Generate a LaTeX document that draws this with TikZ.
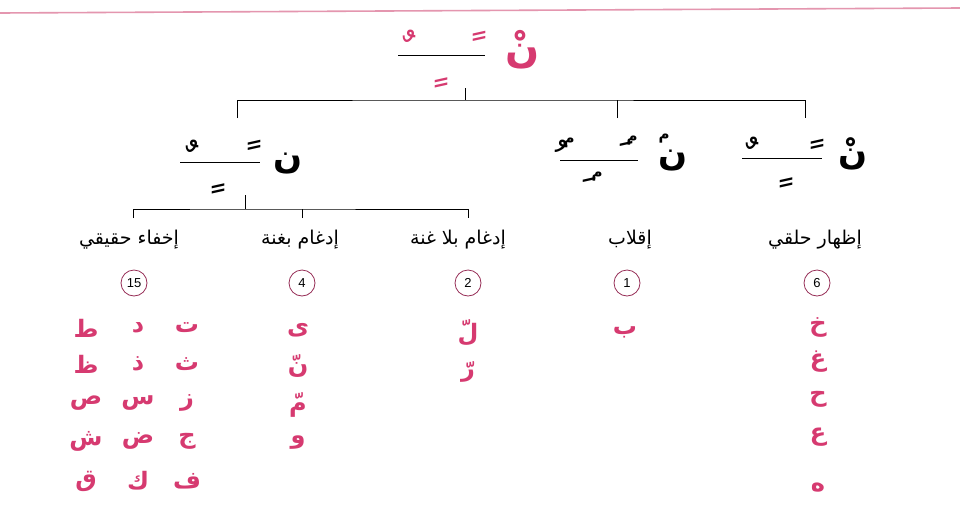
\documentclass[tikz,border=0pt]{standalone}
\usepackage{fontspec}
\setmainfont{Liberation Sans}
\newfontfamily\arabicfont[Script=Arabic]{DejaVu Sans}
\TeXXeTstate=1

\definecolor{tajpink}{RGB}{214,58,112}
\definecolor{ringred}{RGB}{150,45,85}
\definecolor{rulepink}{RGB}{228,150,175}

%% a lone vowel sign sits on a no-break space
\newcommand{\haraka}[1]{\beginR ^^^^00a0#1\endR}

\tikzset{
    lbl/.style={inner sep=1pt, font=\fontsize{19}{22}\selectfont\arabicfont},
    ring/.style={circle, draw=ringred, thick, minimum size=26pt, inner sep=0pt,
        font=\fontsize{13}{15}\selectfont},
    harf/.style={inner sep=0pt, text=tajpink, font=\fontsize{24}{26}\selectfont\arabicfont\bfseries},
    noon/.style={inner sep=0pt, font=\fontsize{34}{36}\selectfont\arabicfont\bfseries},
    harakah/.style={inner sep=0pt, font=\fontsize{44}{46}\selectfont\arabicfont},
    meem/.style={inner sep=0pt, font=\fontsize{15}{16}\selectfont\arabicfont\bfseries},
    tree/.style={line width=0.9pt}
}

\begin{document}
\begin{tikzpicture}[x=1pt,y=-1pt]
                \useasboundingbox (0,0) rectangle (960,504);
                \fill[white] (0,0) rectangle (960,504);

                %%page rule
                \draw[rulepink, line width=1.6pt]
                    (0,13) -- (960,8);

                %%top: nun sakinah and tanween
                \node[noon, text=tajpink, font=\fontsize{40}{42}\selectfont\arabicfont\bfseries]
                    (topnoon) at (523,50) {\beginR نْ\endR};
                \draw[tree]
                    (398,55) -- (485,55);
                \node[harakah, text=tajpink] (topdamm) at (405,49) {\haraka{ٌ}};
                \node[harakah, text=tajpink] (topfath) at (475,49) {\haraka{ً}};
                \node[harakah, text=tajpink] (topkasr) at (437,83) {\haraka{ٍ}};

                %%top tree
                \coordinate (root) at (465,88);
                \coordinate (rootbus) at (465,100);
                \coordinate (ikhfag) at (237,118);
                \coordinate (iqlabg) at (617,118);
                \coordinate (izharg) at (805,118);
                \draw[tree] (root) -- (rootbus);
                \draw[tree] (ikhfag) |- (rootbus) -| (izharg);
                \draw[tree] (iqlabg) -- (iqlabg |- rootbus);

                %%left group (ikhfa / idgham)
                \node[noon] (leftnoon) at (288,164) {\beginR ن\endR};
                \draw[tree]
                    (180,162) -- (260,162);
                \node[harakah] (leftdamm) at (188,159) {\haraka{ٌ}};
                \node[harakah] (leftfath) at (250,158) {\haraka{ً}};
                \node[harakah] (leftkasr) at (214,189) {\haraka{ٍ}};

                %%middle group (iqlab)
                \node[noon] (midnoon) at (673,161) {\beginR ن\endR};
                \node[meem] (midnoonm) at (664,139) {\beginR م\endR};
                \draw[tree]
                    (560,160) -- (638,160);
                \node[harakah] (middamm) at (557,159) {\haraka{ُ}};
                \node[meem] (middammm) at (569,143) {\beginR م\endR};
                \node[harakah] (midfath) at (622,157) {\haraka{َ}};
                \node[meem] (midfathm) at (632,141) {\beginR م\endR};
                \node[harakah] (midkasr) at (585,180) {\haraka{ِ}};
                \node[meem] (midkasrm) at (597,177) {\beginR م\endR};

                %%right group (izhar)
                \node[noon] (rightnoon) at (853,154) {\beginR نْ\endR};
                \draw[tree]
                    (742,158) -- (822,158);
                \node[harakah] (rightdamm) at (748,156) {\haraka{ٌ}};
                \node[harakah] (rightfath) at (813,157) {\haraka{ً}};
                \node[harakah] (rightkasr) at (782,183) {\haraka{ٍ}};

                %%second tree
                \coordinate (sub) at (245,195);
                \coordinate (subbus) at (245,209);
                \coordinate (ikhfat) at (133,218);
                \coordinate (ghunnat) at (302,218);
                \coordinate (blat) at (468,218);
                \draw[tree] (sub) -- (subbus);
                \draw[tree] (ikhfat) |- (subbus) -| (blat);
                \draw[tree] (ghunnat) -- (ghunnat |- subbus);

                %%rule names
                \node[lbl] (ikhfa) at (129,240) {\beginR إخفاء حقيقي\endR};
                \node[lbl] (ghunna) at (300,240) {\beginR إدغام بغنة\endR};
                \node[lbl] (blaghunna) at (458,240) {\beginR إدغام بلا غنة\endR};
                \node[lbl] (iqlab) at (630,240) {\beginR إقلاب\endR};
                \node[lbl] (izhar) at (815,240) {\beginR إظهار حلقي\endR};

                %%counts
                \node[ring] (n15) at (134,283) {15};
                \node[ring] (n4) at (302,283) {4};
                \node[ring] (n2) at (468,283) {2};
                \node[ring] (n1) at (627,283) {1};
                \node[ring] (n6) at (817,283) {6};

                %%ikhfa letters
                \node[harf] (ik1a) at (187,328) {\beginR ت\endR};
                \node[harf] (ik1b) at (138,328) {\beginR د\endR};
                \node[harf] (ik1c) at (86,328) {\beginR ط\endR};
                \node[harf] (ik2a) at (187,364) {\beginR ث\endR};
                \node[harf] (ik2b) at (138,364) {\beginR ذ\endR};
                \node[harf] (ik2c) at (86,364) {\beginR ظ\endR};
                \node[harf] (ik3a) at (187,403) {\beginR ز\endR};
                \node[harf] (ik3b) at (138,403) {\beginR س\endR};
                \node[harf] (ik3c) at (86,403) {\beginR ص\endR};
                \node[harf] (ik4a) at (187,441) {\beginR ج\endR};
                \node[harf] (ik4b) at (138,441) {\beginR ض\endR};
                \node[harf] (ik4c) at (86,441) {\beginR ش\endR};
                \node[harf] (ik5a) at (187,481) {\beginR ف\endR};
                \node[harf] (ik5b) at (138,481) {\beginR ك\endR};
                \node[harf] (ik5c) at (86,481) {\beginR ق\endR};

                %%idgham with ghunna
                \node[harf] (gh1) at (298,330) {\beginR ى\endR};
                \node[harf] (gh2) at (298,366) {\beginR نّ\endR};
                \node[harf] (gh3) at (298,405) {\beginR مّ\endR};
                \node[harf] (gh4) at (298,443) {\beginR و\endR};

                %%idgham without ghunna
                \node[harf] (bl1) at (468,333) {\beginR لّ\endR};
                \node[harf] (bl2) at (468,372) {\beginR رّ\endR};

                %%iqlab
                \node[harf] (iq1) at (625,332) {\beginR ب\endR};

                %%izhar letters
                \node[harf] (iz1) at (818,327) {\beginR خ\endR};
                \node[harf] (iz2) at (818,362) {\beginR غ\endR};
                \node[harf] (iz3) at (818,399) {\beginR ح\endR};
                \node[harf] (iz4) at (818,437) {\beginR ع\endR};
                \node[harf] (iz5) at (818,488) {\beginR ه\endR};
            \end{tikzpicture}
\end{document}
